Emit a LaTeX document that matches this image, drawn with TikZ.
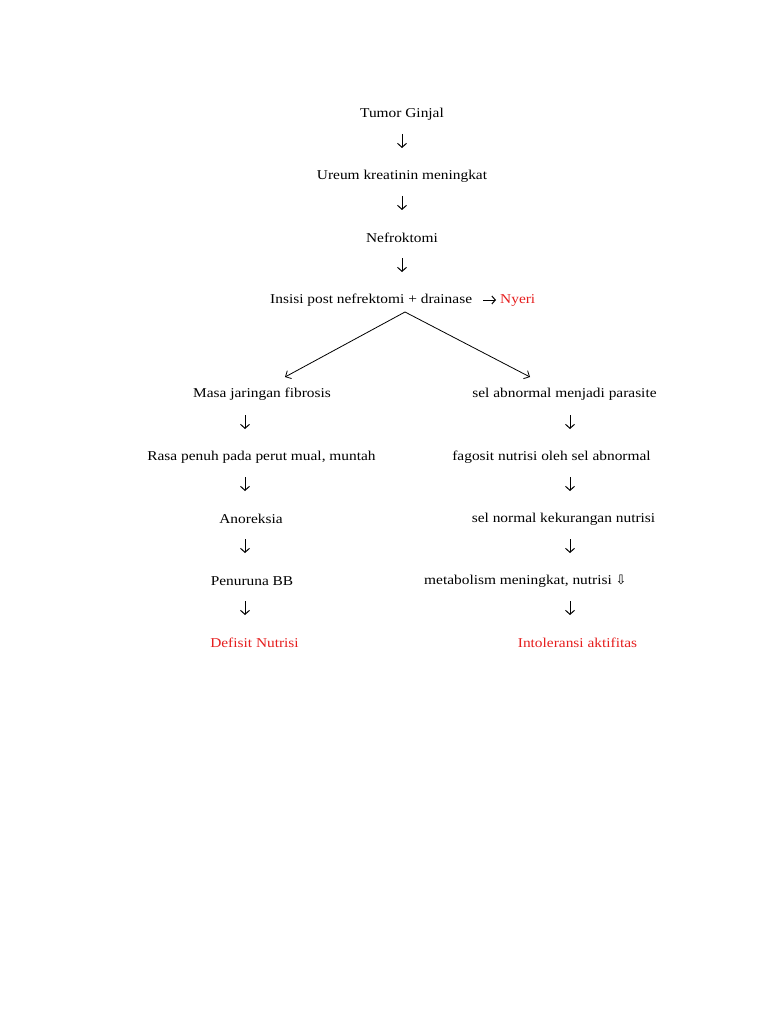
\documentclass[tikz,border=0pt]{standalone}
\usepackage{fontspec}
\setmainfont[FakeStretch=1.14]{Liberation Serif}
\newfontfamily\symfont{DejaVu Sans}
\usetikzlibrary{arrows.meta}
\definecolor{redtxt}{RGB}{230,30,30}
\tikzset{
  lbl/.style={inner sep=0pt, yshift=-2pt, font=\fontsize{13.5}{16}\selectfont},
  lblw/.style={lbl, anchor=west},
  red/.style={text=redtxt},
  downarr/.style={line width=1pt, -{Straight Barb[length=4pt,width=9pt,line width=1pt]}},
  diag/.style={line width=0.8pt, -{Straight Barb[length=4.5pt,width=9pt,line width=0.8pt]}}
}
\begin{document}
\begin{tikzpicture}[x=1pt,y=-1pt]
\useasboundingbox[fill=white] (0,0) rectangle (768,1024);
% main column
\node[lbl] (t1) at (402,112) {Tumor Ginjal};
\node[lbl] (t2) at (402,174) {Ureum kreatinin meningkat};
\node[lbl] (t3) at (402,236) {Nefroktomi};
\node[lblw] (t4) at (270,298) {Insisi post nefrektomi + drainase};
\node[lblw, red] (ny) at (500,298) {Nyeri};
\draw[line width=1pt, -{Straight Barb[length=3.5pt,width=8pt,line width=1pt]}] ([xshift=11pt]t4.east) -- ([xshift=-4pt]ny.west);
\foreach \y/\n in {141/a1,203/a2,265/a3}{
  \coordinate (\n s) at (402,\y-7);
  \coordinate (\n e) at (402,\y+7);
  \draw[downarr] (\n s) -- (\n e);
}
% split
\coordinate (top) at (405,312);
\coordinate (lend) at (285,377);
\coordinate (rend) at (530,377);
\draw[diag] (top) -- (lend);
\draw[diag] (top) -- (rend);
% left column
\node[lbl] (l1) at (262,392) {Masa jaringan fibrosis};
\node[lbl] (l2) at (261.5,455) {Rasa penuh pada perut mual, muntah};
\node[lbl] (l3) at (251,517) {Anoreksia};
\node[lbl] (l4) at (252,579) {Penuruna BB};
\node[lbl, red] (l5) at (254.5,641) {Defisit Nutrisi};
% right column
\node[lbl] (r1) at (564.5,392) {sel abnormal menjadi parasite};
\node[lbl] (r2) at (551.5,455) {fagosit nutrisi oleh sel abnormal};
\node[lbl] (r3) at (563.5,517) {sel normal kekurangan nutrisi};
\node[lblw] (r4) at (424,579) {metabolism meningkat, nutrisi {\symfont\fontsize{13}{15}\selectfont ⇩}};
\node[lbl, red] (r5) at (577.5,641) {Intoleransi aktifitas};
\foreach \y/\n in {422/b1,484/b2,546/b3,608/b4}{
  \coordinate (\n ls) at (245,\y-7);
  \coordinate (\n le) at (245,\y+7);
  \draw[downarr] (\n ls) -- (\n le);
  \coordinate (\n rs) at (570,\y-7);
  \coordinate (\n re) at (570,\y+7);
  \draw[downarr] (\n rs) -- (\n re);
}
\end{tikzpicture}
\end{document}
